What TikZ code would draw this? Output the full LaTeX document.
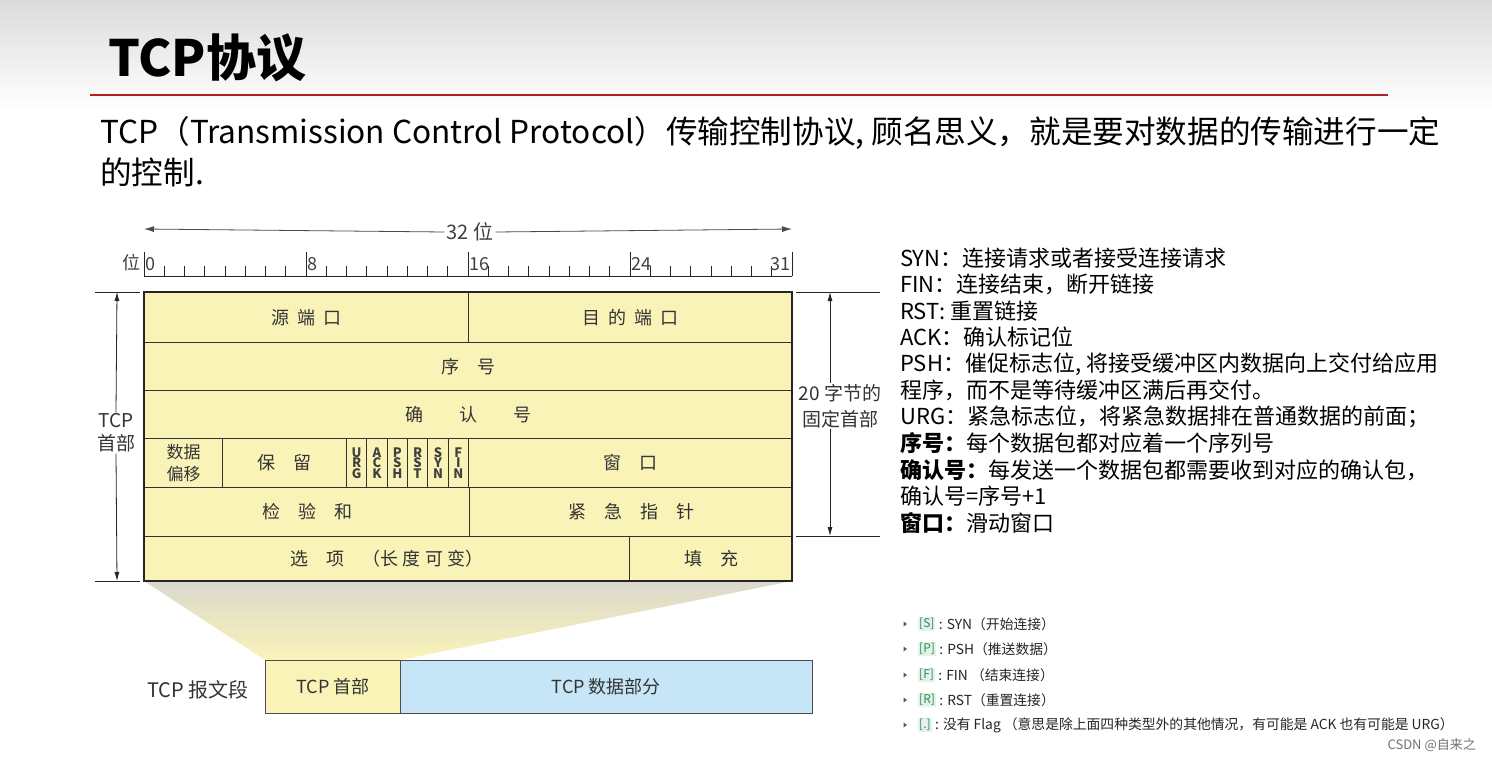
\documentclass[tikz,border=0pt]{standalone}
\usepackage{fontspec}
\setmainfont{Noto Sans CJK SC}
\setsansfont{Noto Sans CJK SC}
\usetikzlibrary{arrows.meta}
\definecolor{cellY}{HTML}{FAF3B8}
\definecolor{cellB}{HTML}{C6E6F8}
\definecolor{tagG}{HTML}{2E8B57}
\definecolor{tagbg}{HTML}{E3F2EA}
\definecolor{ruleR}{HTML}{B22222}
\tikzset{
 cell/.style={draw=black!80,line width=1pt,fill=cellY},
 ctext/.style={font=\fontsize{18}{18}\selectfont,text=black!80},
 flag/.style={font=\fontsize{13}{10.5}\selectfont\bfseries,text=black!75,align=center},
 rtext/.style={anchor=west,font=\fontsize{22}{22}\selectfont,inner sep=0},
 stext/.style={anchor=west,font=\fontsize{13.8}{14}\selectfont,inner sep=0,text=black!85},
 dim/.style={draw=black!85,line width=0.8pt},
}
\begin{document}
\begin{tikzpicture}[x=1pt,y=-1pt]
\useasboundingbox (0,0) rectangle (1492,760);
\fill[white] (0,0) rectangle (1492,760);
\shade[top color=black!14,bottom color=white] (0,0) rectangle (1492,110);
\node[anchor=west,font=\fontsize{50}{50}\selectfont\bfseries,inner sep=0] (title) at (108,58) {TCP协议};
\draw[ruleR,line width=1.2pt] (90,95) -- (1388,95);
\node[anchor=west,font=\fontsize{31.6}{32}\selectfont,inner sep=0] (l1) at (100,133) {TCP（Transmission Control Protocol）传输控制协议, 顾名思义，就是要对数据的传输进行一定};
\node[anchor=west,font=\fontsize{31.6}{32}\selectfont,inner sep=0] (l2) at (100,172) {的控制.};
% ruler
\node[font=\fontsize{20}{20}\selectfont,fill=white,inner sep=2pt,text=black!75] (w32) at (470,232) {32 位};
\coordinate (aL) at (144,229); \coordinate (aR) at (792,229);
\draw[dim,-{Latex[length=10pt,width=6pt]},black!70] (w32.west) -- (aL);
\draw[dim,-{Latex[length=10pt,width=6pt]},black!70] (w32.east) -- (aR);
\draw[dim] (144,276) -- (792,276);
\foreach \i in {0,...,32}{\draw[dim] ({144+\i*20.25},276) -- ({144+\i*20.25},266);}
\foreach \i in {0,8,16,24}{\draw[dim] ({144+\i*20.25},276) -- ({144+\i*20.25},252);}
\draw[dim] (792,276) -- (792,252);
\foreach \i in {0,8,16,24}{\node[anchor=south west,inner sep=1pt,font=\fontsize{18}{18}\selectfont,text=black!75] at ({144+\i*20.25},272) {\i};}
\node[anchor=south east,inner sep=1pt,font=\fontsize{18}{18}\selectfont,text=black!75] at (792,272) {31};
\node[anchor=south east,inner sep=1pt,font=\fontsize{18}{18}\selectfont,text=black!75] (wei) at (142,272) {位};
% trapezoid
\shade[top color=cellY!60!black!35,bottom color=cellY] (144,581) -- (792,581) -- (400,660) -- (265,660) -- cycle;
% rows
\node[cell,minimum width=324,minimum height=50,anchor=north west,ctext] (sp) at (144,292) {源\ \ 端\ \ 口};
\node[cell,minimum width=324,minimum height=50,anchor=north west,ctext] (dp) at (468,292) {目\ \ 的\ \ 端\ \ 口};
\node[cell,minimum width=648,minimum height=48,anchor=north west,ctext] (seq) at (144,342) {序\quad 号};
\node[cell,minimum width=648,minimum height=48,anchor=north west,ctext] (ack) at (144,390) {确\qquad 认\qquad 号};
\node[cell,minimum width=78,minimum height=49,anchor=north west,ctext,align=center,font=\fontsize{17}{22}\selectfont] (off) at (144,438) {数据\\偏移};
\node[cell,minimum width=124,minimum height=49,anchor=north west,ctext] (res) at (222,438) {保\quad 留};
\foreach \n/\t [count=\k from 0] in {urg/U\\R\\G,ackf/A\\C\\K,psh/P\\S\\H,rst/R\\S\\T,syn/S\\Y\\N,fin/F\\I\\N}{
 \node[cell,minimum width=20.3,minimum height=49,anchor=north west,flag,inner sep=0] (\n) at ({346+\k*20.33},438) {\t};}
\node[cell,minimum width=324,minimum height=49,anchor=north west,ctext] (win) at (468,438) {窗\quad 口};
\node[cell,minimum width=325,minimum height=49,anchor=north west,ctext] (chk) at (144,487) {检\quad 验\quad 和};
\node[cell,minimum width=323,minimum height=49,anchor=north west,ctext] (urgp) at (469,487) {紧\quad 急\quad 指\quad 针};
\node[cell,minimum width=485,minimum height=45,anchor=north west,ctext] (opt) at (144,536) {选\quad 项\quad （长\ 度\ 可\ 变）};
\node[cell,minimum width=163,minimum height=45,anchor=north west,ctext] (pad) at (629,536) {填\quad 充};
\draw[black!85,line width=2pt] (144,292) rectangle (792,581);
% left dimension
\draw[dim] (95,292) -- (140,292); \draw[dim] (95,581) -- (140,581);
\node[ctext,align=center,fill=white,inner sep=1pt,font=\fontsize{19}{23}\selectfont] (tcph) at (116,433) {TCP\\首部};
\coordinate (lt) at (117,292); \coordinate (lb) at (117,581);
\draw[dim,-{Latex[length=9pt,width=5pt]}] (tcph.north) -- (lt);
\draw[dim,-{Latex[length=9pt,width=5pt]}] (tcph.south) -- (lb);
% right dimension
\draw[dim] (796,292) -- (880,292); \draw[dim] (796,536) -- (880,536);
\node[ctext,align=center,fill=white,inner sep=1pt,font=\fontsize{19}{26}\selectfont] (fix) at (840,406) {20 字节的\\固定首部};
\coordinate (rt) at (830,292); \coordinate (rb) at (830,536);
\draw[dim,-{Latex[length=9pt,width=5pt]}] (fix.north-|rt) -- (rt);
\draw[dim,-{Latex[length=9pt,width=5pt]}] (fix.south-|rb) -- (rb);
% bottom segment
\node[draw=black!70,line width=0.8pt,fill=cellY,minimum width=135,minimum height=53,anchor=north west,ctext] (hb) at (265,660) {TCP 首部};
\node[draw=black!70,line width=0.8pt,fill=cellB,minimum width=412,minimum height=53,anchor=north west,ctext] (db) at (400,660) {TCP 数据部分};
\node[ctext,anchor=east,font=\fontsize{20}{20}\selectfont] (seg) at (252,690) {TCP 报文段};
% right text
\node[rtext] (r1) at (900,258) {SYN：连接请求或者接受连接请求};
\node[rtext] (r2) at (900,284.5) {FIN：连接结束，断开链接};
\node[rtext] (r3) at (900,311) {RST: 重置链接};
\node[rtext] (r4) at (900,337.5) {ACK：确认标记位};
\node[rtext] (r5) at (900,364) {PSH：催促标志位, 将接受缓冲区内数据向上交付给应用};
\node[rtext] (r6) at (900,390.5) {程序，而不是等待缓冲区满后再交付。};
\node[rtext] (r7) at (900,417) {URG：紧急标志位，将紧急数据排在普通数据的前面；};
\node[rtext] (r8) at (900,443.5) {\textbf{序号：}每个数据包都对应着一个序列号};
\node[rtext] (r9) at (900,470) {\textbf{确认号：}每发送一个数据包都需要收到对应的确认包，};
\node[rtext] (r10) at (900,496.5) {确认号=序号+1};
\node[rtext] (r11) at (900,523) {\textbf{窗口：}滑动窗口};
% small list
\foreach \y/\tag/\txt [count=\k] in {624/[S]/: SYN（开始连接）,649/[P]/: PSH（推送数据）,675/[F]/: FIN （结束连接）,700/[R]/: RST（重置连接）,725/[.]/: 没有 Flag （意思是除上面四种类型外的其他情况，有可能是 ACK 也有可能是 URG）}{
 \coordinate (c\k) at (905,\y);
 \fill[black!65] ([xshift=-1.5pt,yshift=2.5pt]c\k) -- ([xshift=2pt]c\k) -- ([xshift=-1.5pt,yshift=-2.5pt]c\k) -- cycle;
 \node[stext,fill=tagbg,text=tagG,inner sep=1pt,font=\fontsize{12}{12}\selectfont] (t\k) at (918,\y) {\tag};
 \node[stext] (s\k) at ([xshift=3pt]t\k.east) {\txt};}
\node[anchor=east,font=\fontsize{13}{13}\selectfont,text=black!55,inner sep=0] (csdn) at (1476,745) {CSDN @自来之};
\end{tikzpicture}
\end{document}
